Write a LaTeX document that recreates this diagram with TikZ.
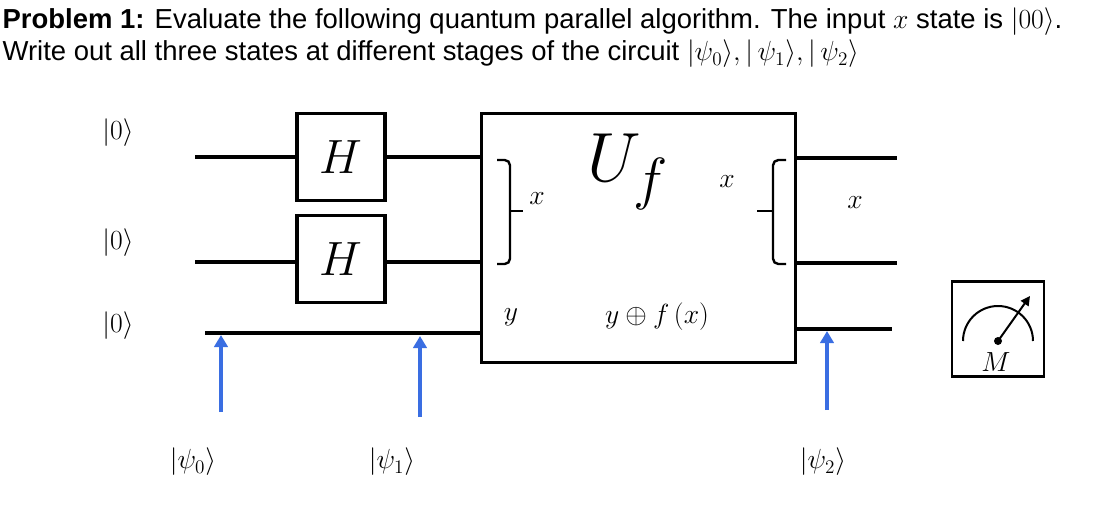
\documentclass[tikz,border=0pt]{standalone}
\usepackage{fontspec}
\setmainfont{Liberation Sans}
\usepackage{amsmath}
\usetikzlibrary{arrows.meta}
\begin{document}
\begin{tikzpicture}[x=0.75pt,y=-0.75pt,
 wire/.style={line width=2.4pt},
 gate/.style={draw,line width=2.4pt,minimum width=66pt,minimum height=65pt,font=\fontsize{24.88}{25}\selectfont},
 blue/.style={draw={rgb,255:red,58;green,110;blue,226},line width=3pt,-{Triangle[length=9pt,width=10pt]}},
 lbl/.style={font=\fontsize{20.74}{21}\selectfont},
 ket/.style={font=\fontsize{20.74}{21}\selectfont}]
\useasboundingbox (0,0) rectangle (1093,511);
\node[anchor=west,font=\fontsize{20.6}{24}\selectfont,inner sep=1pt] (t1) at (1,22) {\textbf{Problem 1:} Evaluate the following quantum parallel algorithm. The input $x$ state is $|00\rangle$.};
\node[anchor=west,font=\fontsize{20.6}{24}\selectfont,inner sep=1pt] (t2) at (1,54) {Write out all three states at different stages of the circuit $|\psi_0\rangle, |\,\psi_1\rangle, |\,\psi_2\rangle$};
\node[ket] (k1) at (118,133) {$|0\rangle$};
\node[ket] (k2) at (118,243) {$|0\rangle$};
\node[ket] (k3) at (118,326) {$|0\rangle$};
\node[gate] (h1) at (341,157) {\scalebox{1.45}{$H$}};
\node[gate] (h2) at (341,259) {\scalebox{1.45}{$H$}};
\node[draw,line width=2.4pt,minimum width=236pt,minimum height=187pt] (U) at (638.5,238) {};
\coordinate (a1) at (195,157); \coordinate (a2) at (195,262); \coordinate (a3) at (205,333);
\draw[wire] (a1) -- (h1.west|-a1); \draw[wire] (h1.east|-a1) -- (U.west|-a1);
\draw[wire] (a2) -- (h2.west|-a2); \draw[wire] (h2.east|-a2) -- (U.west|-a2);
\draw[wire] (a3) -- (U.west|-a3);
\coordinate (b1) at (897,158); \coordinate (b2) at (897,263); \coordinate (b3) at (892,329);
\draw[wire] (U.east|-b1) -- (b1); \draw[wire] (U.east|-b2) -- (b2); \draw[wire] (U.east|-b3) -- (b3);
\draw[line width=1.8pt,rounded corners=4pt] (497,160) -- (510,160) -- (510,264) -- (497,264);
\draw[line width=1.8pt] (510,211) -- (523,211);
\draw[line width=1.8pt,rounded corners=4pt] (786,160) -- (773,160) -- (773,264) -- (786,264);
\draw[line width=1.8pt] (773,211) -- (757,211);
\node[lbl] (x1) at (537,199) {$x$};
\node[lbl] (x2) at (727,182) {$x$};
\node[lbl] (x3) at (855,203) {$x$};
\node[lbl] (y1) at (511,317) {$y$};
\node[lbl] (y2) at (657,317) {$y\oplus f\,(x)$};
\node[font=\fontsize{24.88}{25}\selectfont] (uf) at (628,172) {\scalebox{2.1}{$U_f$}};
\node[draw,line width=2pt,minimum width=69pt,minimum height=71pt] (m) at (998,329) {};
\draw[line width=1.5pt] (963,341) arc (180:360:35);
\fill (998,341) circle (3pt);
\draw[line width=1.5pt,-{Triangle[length=7pt,width=7pt]}] (998,341) -- (1030,296);
\node[font=\fontsize{20}{20}\selectfont] (mm) at (996,362) {$M$};
\node[ket] (p0) at (193,462) {$|\psi_0\rangle$};
\node[ket] (p1) at (392,462) {$|\psi_1\rangle$};
\node[ket] (p2) at (823,462) {$|\psi_2\rangle$};
\coordinate (s0) at (221,412); \coordinate (s1) at (420,417); \coordinate (s2) at (827,410);
\draw[blue] (s0) -- (221,335);
\draw[blue] (s1) -- (420,336);
\draw[blue] (s2) -- (827,331);
\end{tikzpicture}
\end{document}
